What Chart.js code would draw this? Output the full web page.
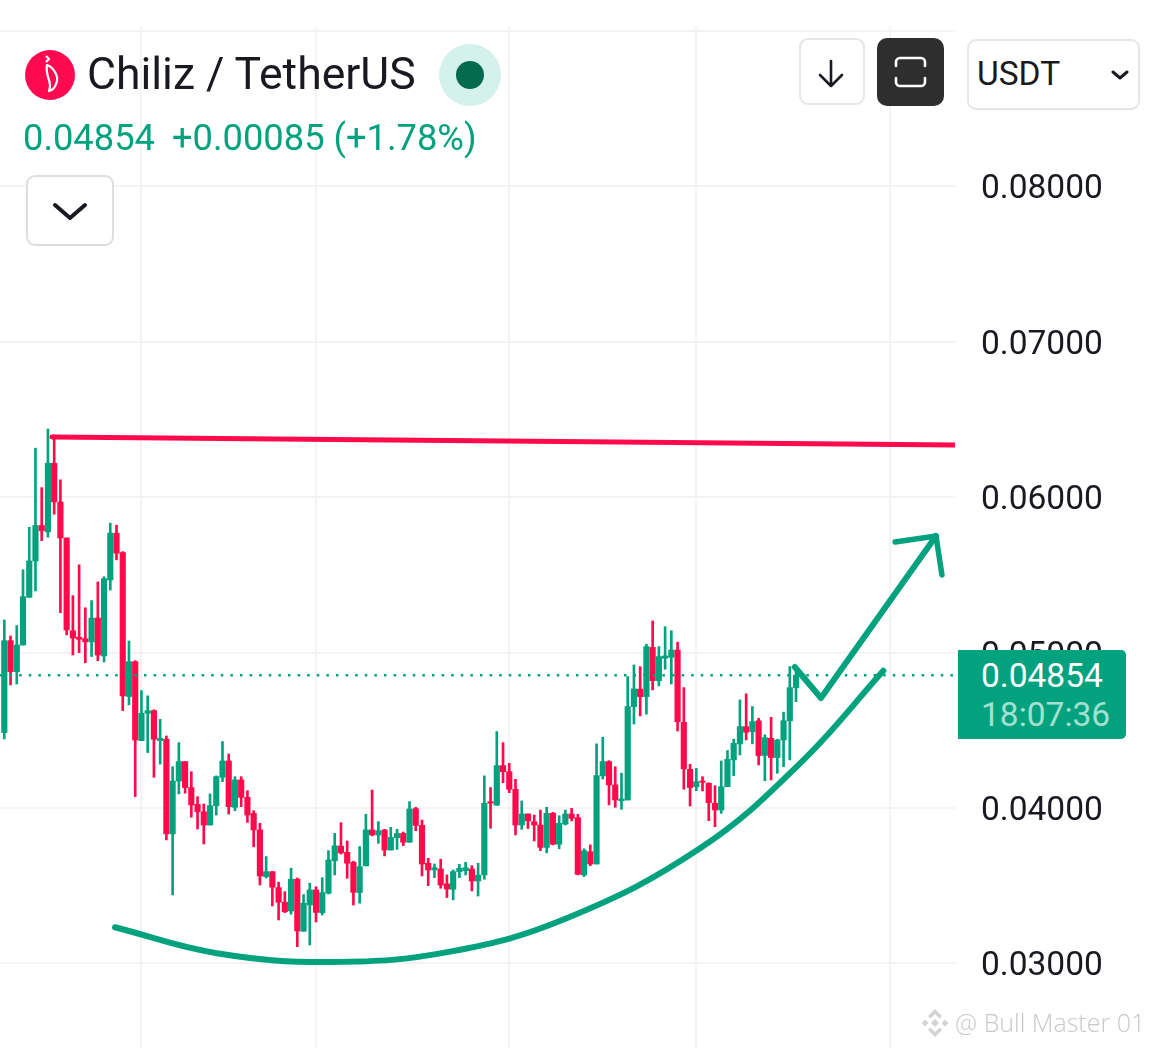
<!DOCTYPE html>
<html>
<head>
<meta charset="utf-8">
<title>Chiliz / TetherUS</title>
<script src="https://cdn.jsdelivr.net/npm/chart.js@4"></script>
<style>
  html, body { margin: 0; padding: 0; background: #fff; overflow: hidden; }
  #page { position: relative; width: 1152px; height: 1048px; font-family: Roboto, sans-serif; color: #181a20; }
  #graph { position: absolute; left: 0; top: 0; width: 1152px; height: 1048px; }
  .txt { position: absolute; white-space: nowrap; line-height: 1; }
  .box { position: absolute; box-sizing: border-box; background: #fff; border: 2px solid #e6e6e6; border-radius: 9px; }
  .ico { position: absolute; }
</style>
</head>
<body>
<div id="page">
  <canvas id="graph" width="1152" height="1048"></canvas>

  <svg class="ico" style="left:25px;top:50px" width="50" height="50" viewBox="0 0 50 50">
    <circle cx="25" cy="25" r="25" fill="#ff0a50"/>
    <path d="M21 6 l3 3 l-3 3 M22 15 c6 2 11 10 10 16 c-1 5 -4 9 -8 10 c2 -5 1 -9 -1 -14 c-1 -4 -2 -8 -1 -12 z" fill="none" stroke="#fff" stroke-width="2.2" stroke-linejoin="round"/>
  </svg>
  <div class="txt" style="left:87px;top:52px;font-size:44.5px">Chiliz / TetherUS</div>
  <svg class="ico" style="left:439px;top:44px" width="62" height="62" viewBox="0 0 62 62">
    <circle cx="31" cy="31" r="31" fill="#d5f1eb"/>
    <circle cx="31" cy="31" r="14" fill="#03694f"/>
  </svg>
  <div class="txt" style="left:23px;top:120px;font-size:36.3px;color:#02a27f">0.04854</div>
  <div class="txt" style="left:172px;top:120px;font-size:36.3px;color:#02a27f">+0.00085 (+1.78%)</div>

  <div class="box" style="left:26px;top:175px;width:88px;height:71px;border-color:#dedede">
    <svg class="ico" style="left:24px;top:25px" width="36" height="20" viewBox="0 0 36 20">
      <path d="M3 3 L18 16 L33 3" fill="none" stroke="#181a20" stroke-width="4" stroke-linecap="round" stroke-linejoin="round"/>
    </svg>
  </div>

  <div class="box" style="left:799px;top:38px;width:66px;height:67px">
    <svg class="ico" style="left:15px;top:19px" width="30" height="30" viewBox="0 0 30 30">
      <path d="M15 2 V27 M4 16 L15 27 L26 16" fill="none" stroke="#181a20" stroke-width="2.6" stroke-linecap="round" stroke-linejoin="round"/>
    </svg>
  </div>
  <div class="box" style="left:877px;top:38px;width:67px;height:68px;background:#2e2e2e;border:none;border-radius:10px">
    <svg class="ico" style="left:17px;top:18px" width="33" height="32" viewBox="0 0 33 32">
      <path d="M2 10 V6 a4 4 0 0 1 4 -4 H27 a4 4 0 0 1 4 4 V10 M2 22 V26 a4 4 0 0 0 4 4 H27 a4 4 0 0 0 4 -4 V22" fill="none" stroke="#fff" stroke-width="2.6" stroke-linecap="round"/>
    </svg>
  </div>
  <div class="box" style="left:967px;top:39px;width:173px;height:71px">
    <div class="txt" style="left:8px;top:16px;font-size:33.5px">USDT</div>
    <svg class="ico" style="left:142px;top:28px" width="18" height="12" viewBox="0 0 18 12">
      <path d="M2 3 L9 9 L16 3" fill="none" stroke="#181a20" stroke-width="3" stroke-linecap="round" stroke-linejoin="round"/>
    </svg>
  </div>

  <div class="box" style="left:958px;top:650px;width:168px;height:89px;background:#02a27f;border:none;border-radius:0 5px 5px 0">
    <div class="txt" style="left:23px;top:9px;font-size:33.5px;color:#fff">0.04854</div>
    <div class="txt" style="left:23px;top:48px;font-size:33.5px;color:#a4e0d2">18:07:36</div>
  </div>

  <svg class="ico" style="left:921px;top:1009px" width="28" height="28" viewBox="0 0 28 28">
    <g fill="#d4d4d4">
      <path d="M14 0 L21 7 L18.5 9.5 L14 5 L9.5 9.5 L7 7 z M14 28 L21 21 L18.5 18.5 L14 23 L9.5 18.5 L7 21 z"/>
      <path d="M14 10 L18 14 L14 18 L10 14 z M4 10.5 L7.5 14 L4 17.5 L0.5 14 z M24 10.5 L27.5 14 L24 17.5 L20.5 14 z"/>
    </g>
  </svg>
  <div class="txt" style="left:955px;top:1010px;font-size:25px;color:#c9c9c9;font-family:'Open Sans',sans-serif;font-weight:300">@ Bull Master 01</div>
</div>

<script>
// prix, une bougie par index
const opens = [0.04486,0.05077,0.04878,0.05049,0.05356,0.05590,0.05818,0.05777,0.06219,0.05970,
  0.05738,0.05141,0.05099,0.05090,0.05069,0.05223,0.04979,0.05468,0.05769,0.05644,
  0.04718,0.04942,0.04434,0.04610,0.04627,0.04434,0.04443,0.03834,0.04174,0.04299,
  0.04132,0.04024,0.03976,0.03891,0.04015,0.04198,0.04303,0.04005,0.04181,0.04069,
  0.03966,0.03859,0.03559,0.03591,0.03488,0.03394,0.03338,0.03542,0.03207,0.03376,
  0.03473,0.03327,0.03452,0.03661,0.03755,0.03715,0.03651,0.03456,0.03628,0.03859,
  0.03827,0.03859,0.03730,0.03809,0.03837,0.03780,0.03996,0.03889,0.03645,0.03602,
  0.03608,0.03512,0.03477,0.03591,0.03597,0.03608,0.03531,0.03570,0.04041,0.04018,
  0.04273,0.04234,0.04121,0.03891,0.03962,0.03912,0.03891,0.03747,0.03966,0.03767,
  0.03897,0.03962,0.03938,0.03570,0.03719,0.03640,0.04207,0.04299,0.04149,0.04047,
  0.04052,0.04653,0.04765,0.04717,0.05034,0.04820,0.04964,0.04970,0.05017,0.04552,
  0.04249,0.04138,0.04174,0.04159,0.04031,0.03988,0.04138,0.04310,0.04413,0.04524,
  0.04492,0.04561,0.04338,0.04449,0.04325,0.04438,0.04561,0.04775];
const highs = [0.05210,0.05107,0.05174,0.05533,0.05807,0.06316,0.06062,0.06439,0.06401,0.06112,
  0.05738,0.05367,0.05565,0.05289,0.05335,0.05455,0.05489,0.05833,0.05820,0.05650,
  0.05075,0.04948,0.04756,0.04722,0.04632,0.04571,0.04464,0.04266,0.04421,0.04299,
  0.04234,0.04073,0.04026,0.04091,0.04207,0.04428,0.04348,0.04202,0.04202,0.04112,
  0.03983,0.03902,0.03688,0.03591,0.03523,0.03462,0.03613,0.03550,0.03443,0.03516,
  0.03494,0.03552,0.03726,0.03837,0.03906,0.03788,0.03658,0.03752,0.03960,0.04116,
  0.03912,0.03863,0.03876,0.03863,0.03846,0.04041,0.04005,0.03923,0.03677,0.03640,
  0.03671,0.03570,0.03602,0.03638,0.03651,0.03629,0.03645,0.04207,0.04132,0.04492,
  0.04421,0.04288,0.04185,0.04046,0.03962,0.03955,0.03987,0.04005,0.03973,0.03951,
  0.03987,0.03998,0.03960,0.03738,0.03763,0.04413,0.04456,0.04305,0.04266,0.04224,
  0.04846,0.04921,0.04910,0.05054,0.05204,0.05039,0.05167,0.05141,0.05067,0.04775,
  0.04281,0.04255,0.04202,0.04163,0.04144,0.04303,0.04370,0.04443,0.04696,0.04735,
  0.04653,0.04578,0.04471,0.04584,0.04443,0.04617,0.04910,0.04910];
const lows = [0.04445,0.04792,0.04798,0.05049,0.05356,0.05397,0.05721,0.05743,0.05891,0.05257,
  0.05114,0.04985,0.05000,0.04935,0.04975,0.04948,0.04940,0.05403,0.05597,0.04627,
  0.04664,0.04074,0.04434,0.04357,0.04198,0.04283,0.03795,0.03441,0.04091,0.04096,
  0.03941,0.03865,0.03769,0.03891,0.03955,0.04170,0.03961,0.03983,0.04009,0.03908,
  0.03751,0.03505,0.03550,0.03370,0.03280,0.03327,0.03317,0.03108,0.03207,0.03119,
  0.03267,0.03312,0.03447,0.03570,0.03704,0.03548,0.03376,0.03388,0.03628,0.03821,
  0.03773,0.03692,0.03730,0.03734,0.03758,0.03780,0.03854,0.03563,0.03501,0.03552,
  0.03484,0.03424,0.03409,0.03552,0.03570,0.03467,0.03434,0.03542,0.03870,0.04018,
  0.04163,0.04099,0.03827,0.03863,0.03868,0.03788,0.03726,0.03712,0.03763,0.03738,
  0.03891,0.03917,0.03570,0.03559,0.03629,0.03640,0.04187,0.04020,0.04005,0.03992,
  0.04052,0.04541,0.04593,0.04604,0.04760,0.04786,0.04893,0.04798,0.04496,0.04121,
  0.04013,0.04112,0.04110,0.03919,0.03880,0.03966,0.04138,0.04209,0.04342,0.04438,
  0.04413,0.04278,0.04176,0.04181,0.04224,0.04266,0.04310,0.04685];
const closes = [0.05077,0.04878,0.05049,0.05360,0.05590,0.05818,0.05785,0.06219,0.05970,0.05738,
  0.05146,0.05094,0.05086,0.05069,0.05223,0.04985,0.05476,0.05769,0.05640,0.04722,
  0.04942,0.04438,0.04610,0.04627,0.04443,0.04449,0.03834,0.04174,0.04299,0.04132,
  0.04020,0.03976,0.03891,0.04015,0.04202,0.04303,0.04009,0.04181,0.04069,0.03955,
  0.03859,0.03563,0.03591,0.03491,0.03394,0.03333,0.03542,0.03209,0.03388,0.03473,
  0.03329,0.03456,0.03666,0.03757,0.03712,0.03645,0.03458,0.03623,0.03859,0.03827,
  0.03854,0.03730,0.03811,0.03837,0.03780,0.03994,0.03889,0.03640,0.03602,0.03616,
  0.03505,0.03479,0.03591,0.03613,0.03616,0.03531,0.03568,0.04031,0.04031,0.04273,
  0.04234,0.04121,0.03891,0.03962,0.03918,0.03891,0.03747,0.03966,0.03767,0.03902,
  0.03962,0.03934,0.03574,0.03726,0.03640,0.04209,0.04299,0.04149,0.04052,0.04059,
  0.04653,0.04767,0.04717,0.05039,0.04820,0.04975,0.04979,0.05017,0.04556,0.04252,
  0.04132,0.04170,0.04166,0.04035,0.03988,0.04138,0.04314,0.04417,0.04524,0.04488,
  0.04556,0.04338,0.04453,0.04325,0.04438,0.04562,0.04775,0.04854];

const lastPrice = 0.04854;
const priceTicks = [0.03,0.04,0.05,0.06,0.07,0.08,0.09];
const timeGrid = [22,50,81,111,142]; // lignes verticales (index bougie)

// dessins par dessus le graphique : index bougie / prix
const resistX = [7.65,152.5];
const resistY = [0.06388,0.06337];
const curveX = [17.76,34.07,52.73,71.5,90.2,111.6,127.65,141];
const curveY = [0.03233,0.03066,0.0301,0.03076,0.03291,0.03741,0.04288,0.04884];
const arrowX = [126.8,131,149.45];
const arrowY = [0.04908,0.04708,0.05751];
const headX = [142.9,149.45,150.4];
const headY = [0.05712,0.05751,0.055];

const UP = '#02a27f';
const DOWN = '#ff0a4b';

function points(xs, ys) {
  return xs.map(function(x, i) { return {x: x, y: ys[i]}; });
}

var wicks = [], bodies = [], colors = [];
for (var i = 0; i < opens.length; i++) {
  wicks.push({x: i, y: [lows[i], highs[i]]});
  bodies.push({x: i, y: [Math.min(opens[i], closes[i]), Math.max(opens[i], closes[i])]});
  colors.push(closes[i] >= opens[i] ? UP : DOWN);
}

function trait(xs, ys, color, width, tension) {
  return {
    type: 'line',
    data: points(xs, ys),
    borderColor: color,
    borderWidth: width,
    borderCapStyle: 'round',
    borderJoinStyle: 'round',
    tension: tension || 0,
    pointRadius: 0,
    order: 0
  };
}

var ctx = document.getElementById('graph').getContext('2d');
new Chart(ctx, {
  type: 'bar',
  data: {
    datasets: [
      {label: 'corps', data: bodies, backgroundColor: colors, barThickness: 5.5, grouped: false, order: 2},
      {label: 'meches', data: wicks, backgroundColor: colors, barThickness: 2, grouped: false, order: 2},
      {
        type: 'line',
        label: 'dernier prix',
        data: points([-0.69,152.2], [lastPrice,lastPrice]),
        borderColor: UP,
        borderWidth: 2.5,
        borderDash: [2.5,7.1],
        pointRadius: 0,
        order: 1
      },
      trait(resistX, resistY, '#ff0a4b', 5),
      trait(curveX, curveY, UP, 6, 0.4),
      trait(arrowX, arrowY, UP, 6),
      trait(headX, headY, UP, 5.5)
    ]
  },
  options: {
    responsive: false,
    animation: false,
    devicePixelRatio: 1,
    layout: {padding: {top: 27, left: 0, right: 0, bottom: 0}},
    plugins: {legend: {display: false}, tooltip: {enabled: false}},
    scales: {
      x: {
        type: 'linear',
        min: -0.69,
        max: 152.5,
        offset: false,
        afterBuildTicks: function(axis) {
          axis.ticks = timeGrid.map(function(v) { return {value: v}; });
        },
        afterFit: function(axis) { axis.height = 0; axis.paddingLeft = 0; axis.paddingRight = 0; },
        ticks: {display: false},
        border: {display: false},
        grid: {color: '#f3f3f4', lineWidth: 2, drawTicks: false, offset: false}
      },
      y: {
        position: 'right',
        min: 0.02456,
        max: 0.09026,
        afterBuildTicks: function(axis) {
          axis.ticks = priceTicks.map(function(v) { return {value: v}; });
        },
        afterFit: function(axis) { axis.width = 197; axis.paddingTop = 0; axis.paddingBottom = 0; },
        ticks: {
          padding: 26,
          labelOffset: 3.5,
          color: '#181a20',
          font: {family: 'Roboto', size: 33.5},
          callback: function(v) { return v >= 0.09 ? '' : v.toFixed(5); }
        },
        border: {display: false},
        grid: {color: '#f3f3f4', lineWidth: 2, drawTicks: false}
      }
    }
  }
});
</script>
</body>
</html>
